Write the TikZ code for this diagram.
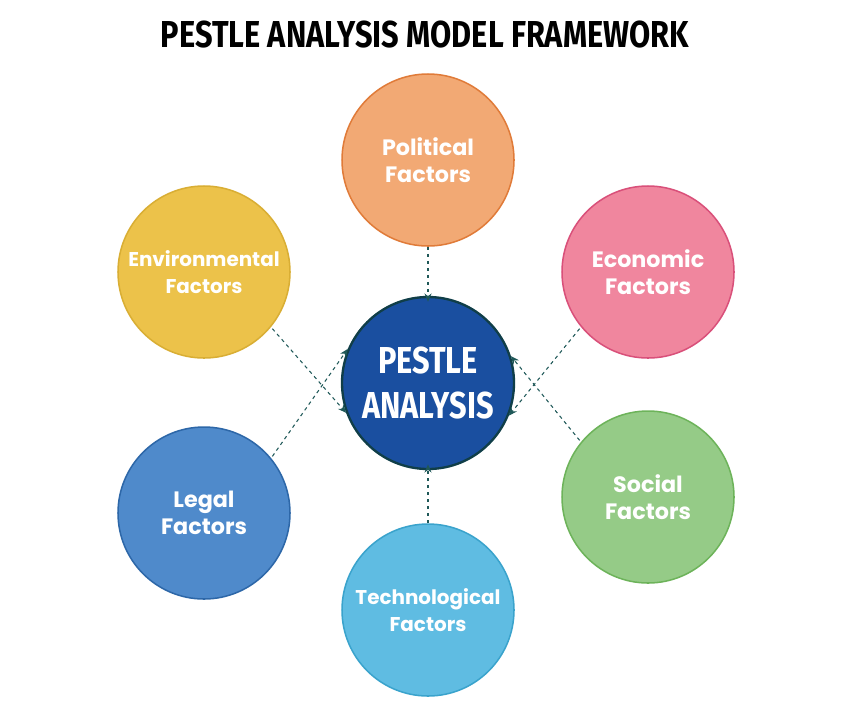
\documentclass[tikz,border=0pt]{standalone}
\usepackage{fontspec}
\setmainfont{Poppins}
\newfontfamily\headfont{Fira Sans}
\usetikzlibrary{arrows.meta}
\definecolor{arrowc}{HTML}{1F5858}
\definecolor{centerfill}{HTML}{1A4FA0}
\definecolor{centerdraw}{HTML}{103E48}
\tikzset{
  factor/.style={circle, minimum size=172*0.03cm, line width=1.3pt, text=white,
    align=center, font=\fontsize{19}{23}\selectfont\bfseries, inner sep=0pt},
  link/.style={draw=arrowc, dashed, line width=0.9pt, -{Stealth[length=7pt,width=6pt]}}
}
\begin{document}
\begin{tikzpicture}[x=0.03cm, y=-0.03cm]
  \useasboundingbox (0,0) rectangle (850,715);
  \node[font=\headfont\fontsize{32}{36}\selectfont\bfseries] (title) at (425,35)
    {\scalebox{0.82}[1]{PESTLE ANALYSIS MODEL FRAMEWORK}};
  % Mitte
  \node[factor, fill=centerfill, draw=centerdraw, line width=2pt,
    font=\headfont\fontsize{32}{38}\selectfont\bfseries] (center) at (428,383)
    {\scalebox{0.82}[1]{PESTLE}\\\scalebox{0.82}[1]{ANALYSIS}};
  % Faktoren
  \foreach \name/\x/\y/\fc/\dc/\txt in {
      pol/428/160/F2A974/E07B39/{Political\\Factors},
      eco/648/272/F0869E/D9507A/{Economic\\Factors},
      soc/648/497/95CB87/6DB35A/{Social\\Factors},
      tec/428/610/5FBCE2/3AA3CC/{\fontsize{17}{22}\selectfont Technological\\\fontsize{17}{22}\selectfont Factors},
      leg/204/513/4F8ACB/2D67A8/{Legal\\Factors},
      env/204/272/ECC24A/D9AE34/{\fontsize{17}{22}\selectfont Environmental\\\fontsize{17}{22}\selectfont Factors}}
  {
    \definecolor{fc}{HTML}{\fc}\definecolor{dc}{HTML}{\dc}
    \node[factor, fill=fc, draw=dc] (\name) at (\x,\y) {\txt};
  }
  % Pfeile
  \draw[link] (pol) -- ([yshift=-5pt]center.north);
  \draw[link] ([xshift=-6pt,yshift=4pt]eco.south west) -- (center.-22);
  \draw[link] ([xshift=-6pt,yshift=-4pt]soc.north west) -- (center.18);
  \draw[link] (tec) -- ([yshift=5pt]center.south);
  \draw[link] ([xshift=6pt,yshift=-4pt]leg.north east) -- (center.157);
  \draw[link] ([xshift=6pt,yshift=4pt]env.south east) -- (center.200);
\end{tikzpicture}
\end{document}
